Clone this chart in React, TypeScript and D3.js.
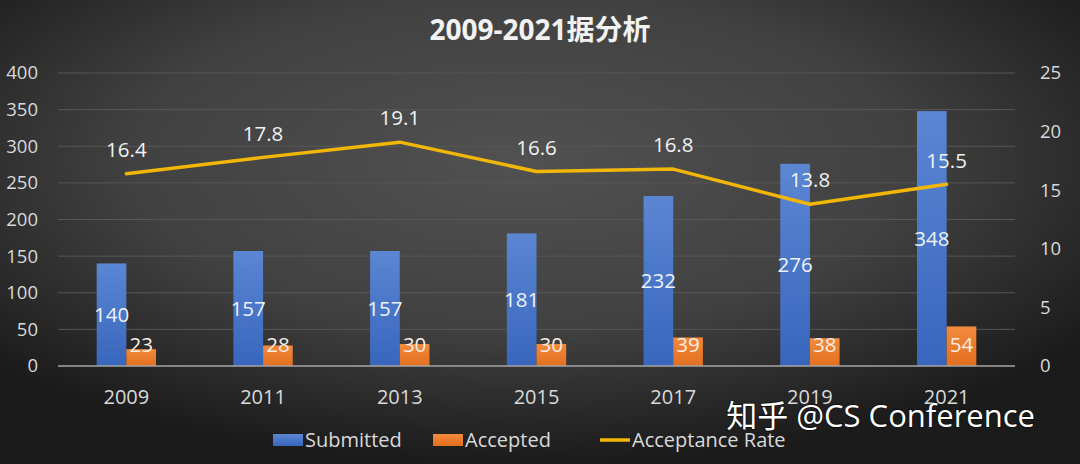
import { useEffect, useRef } from "react";
import * as d3 from "d3";

const years = ["2009", "2011", "2013", "2015", "2017", "2019", "2021"];
const submitted = [140, 157, 157, 181, 232, 276, 348];
const accepted = [23, 28, 30, 30, 39, 38, 54];
const acceptanceRate = [16.4, 17.8, 19.1, 16.6, 16.8, 13.8, 15.5];
const leftTicks = [0, 50, 100, 150, 200, 250, 300, 350, 400];
const rightTicks = [0, 5, 10, 15, 20, 25];
const seriesNames = ["Submitted", "Accepted", "Acceptance Rate"];
const title = "2009-2021据分析";
const watermark = "知乎 @CS Conference";

const FONT = "'Open Sans', 'Noto Sans CJK SC', sans-serif";

export default function App() {
  const svgRef = useRef<SVGSVGElement>(null);

  useEffect(() => {
    const svg = d3.select(svgRef.current);
    svg.selectAll("*").remove();

    const W = 1080;
    const H = 464;
    const margin = { top: 73, right: 65, bottom: 98, left: 58 };
    const width = W - margin.left - margin.right;
    const height = H - margin.top - margin.bottom;

    // Background
    const defs = svg.append("defs");
    const bg = defs
      .append("radialGradient")
      .attr("id", "bg")
      .attr("cx", "48%")
      .attr("cy", "35%")
      .attr("r", "65%");
    bg.append("stop").attr("offset", "0%").attr("stop-color", "#515151");
    bg.append("stop").attr("offset", "55%").attr("stop-color", "#414141");
    bg.append("stop").attr("offset", "100%").attr("stop-color", "#1b1b1b");

    const blue = defs
      .append("linearGradient")
      .attr("id", "blueGrad")
      .attr("x1", 0)
      .attr("y1", 0)
      .attr("x2", 0)
      .attr("y2", 1);
    blue.append("stop").attr("offset", "0%").attr("stop-color", "#5b86d3");
    blue.append("stop").attr("offset", "100%").attr("stop-color", "#3866bd");

    const orange = defs
      .append("linearGradient")
      .attr("id", "orangeGrad")
      .attr("x1", 0)
      .attr("y1", 0)
      .attr("x2", 0)
      .attr("y2", 1);
    orange.append("stop").attr("offset", "0%").attr("stop-color", "#f28a3c");
    orange.append("stop").attr("offset", "100%").attr("stop-color", "#e36f1f");

    svg.append("rect").attr("width", W).attr("height", H).attr("fill", "url(#bg)");

    const g = svg
      .append("g")
      .attr("transform", `translate(${margin.left},${margin.top})`);

    // Scales
    const x0 = d3.scaleBand().domain(years).range([0, width]).paddingInner(0).paddingOuter(0);
    const x1 = d3
      .scaleBand()
      .domain(["s", "a"])
      .range([x0.bandwidth() * 0.283, x0.bandwidth() * 0.717]);
    const yLeft = d3.scaleLinear().domain([0, 400]).range([height, 0]);
    const yRight = d3.scaleLinear().domain([0, 25]).range([height, 0]);

    // Gridlines
    g.append("g")
      .selectAll("line")
      .data(leftTicks.filter((t) => t > 0))
      .join("line")
      .attr("x1", 0)
      .attr("x2", width)
      .attr("y1", (d) => yLeft(d))
      .attr("y2", (d) => yLeft(d))
      .attr("stroke", "#575757")
      .attr("stroke-width", 1);

    // Left axis labels
    g.append("g")
      .selectAll("text")
      .data(leftTicks)
      .join("text")
      .attr("x", -20)
      .attr("y", (d) => yLeft(d))
      .attr("dy", "0.35em")
      .attr("text-anchor", "end")
      .attr("fill", "#d9d9d9")
      .style("font-family", FONT)
      .style("font-size", "18.5px")
      .text((d) => d);

    // Right axis labels
    g.append("g")
      .selectAll("text")
      .data(rightTicks)
      .join("text")
      .attr("x", width + 25)
      .attr("y", (d) => yRight(d))
      .attr("dy", "0.35em")
      .attr("text-anchor", "start")
      .attr("fill", "#d9d9d9")
      .style("font-family", FONT)
      .style("font-size", "18.5px")
      .text((d) => d);

    // Bars
    const groups = g
      .append("g")
      .selectAll("g")
      .data(years)
      .join("g")
      .attr("transform", (d) => `translate(${x0(d)},0)`);

    groups
      .append("rect")
      .attr("x", x1("s")!)
      .attr("width", x1.bandwidth())
      .attr("y", (_, i) => yLeft(submitted[i]))
      .attr("height", (_, i) => height - yLeft(submitted[i]))
      .attr("fill", "url(#blueGrad)");

    groups
      .append("rect")
      .attr("x", x1("a")!)
      .attr("width", x1.bandwidth())
      .attr("y", (_, i) => yLeft(accepted[i]))
      .attr("height", (_, i) => height - yLeft(accepted[i]))
      .attr("fill", "url(#orangeGrad)");

    // Baseline
    g.append("line")
      .attr("x1", 0)
      .attr("x2", width)
      .attr("y1", height)
      .attr("y2", height)
      .attr("stroke", "#a6a6a6")
      .attr("stroke-width", 1.5);

    // Bar labels
    groups
      .append("text")
      .attr("x", x1("s")! + x1.bandwidth() / 2)
      .attr("y", (_, i) => (yLeft(submitted[i]) + height) / 2)
      .attr("dy", "0.35em")
      .attr("text-anchor", "middle")
      .attr("fill", "#eef3fb")
      .style("font-family", FONT)
      .style("font-size", "20.5px")
      .text((_, i) => submitted[i]);

    groups
      .append("text")
      .attr("x", x1("a")! + x1.bandwidth() / 2)
      .attr("y", height - 21)
      .attr("dy", "0.35em")
      .attr("text-anchor", "middle")
      .attr("fill", "#fbeee4")
      .style("font-family", FONT)
      .style("font-size", "20.5px")
      .text((_, i) => accepted[i]);

    // Acceptance rate line
    const line = d3
      .line<number>()
      .x((_, i) => x0(years[i])! + x0.bandwidth() / 2)
      .y((d) => yRight(d));

    g.append("path")
      .datum(acceptanceRate)
      .attr("fill", "none")
      .attr("stroke", "#f2b705")
      .attr("stroke-width", 3.5)
      .attr("stroke-linejoin", "round")
      .attr("stroke-linecap", "round")
      .attr("d", line);

    g.append("g")
      .selectAll("text")
      .data(acceptanceRate)
      .join("text")
      .attr("x", (_, i) => x0(years[i])! + x0.bandwidth() / 2)
      .attr("y", (d) => yRight(d) - 24)
      .attr("dy", "0.35em")
      .attr("text-anchor", "middle")
      .attr("fill", "#f2f2f2")
      .style("font-family", FONT)
      .style("font-size", "20.5px")
      .text((d) => d.toFixed(1));

    // X axis labels
    g.append("g")
      .selectAll("text")
      .data(years)
      .join("text")
      .attr("x", (d) => x0(d)! + x0.bandwidth() / 2)
      .attr("y", height + 31)
      .attr("dy", "0.35em")
      .attr("text-anchor", "middle")
      .attr("fill", "#d9d9d9")
      .style("font-family", FONT)
      .style("font-size", "20px")
      .text((d) => d);

    // Title
    svg
      .append("text")
      .attr("x", W / 2)
      .attr("y", 30)
      .attr("dy", "0.35em")
      .attr("text-anchor", "middle")
      .attr("fill", "#f2f2f2")
      .style("font-family", FONT)
      .style("font-size", "28px")
      .style("font-weight", "bold")
      .text(title);

    // Legend
    const legendY = 440;
    const legend = svg.append("g").style("font-family", FONT).style("font-size", "20px");
    const items = [
      { x: 273, kind: "rect", fill: "url(#blueGrad)" },
      { x: 433, kind: "rect", fill: "url(#orangeGrad)" },
      { x: 600, kind: "line", fill: "#f2b705" },
    ];
    items.forEach((it, i) => {
      if (it.kind === "rect") {
        legend
          .append("rect")
          .attr("x", it.x)
          .attr("y", legendY - 6)
          .attr("width", 30)
          .attr("height", 12)
          .attr("fill", it.fill);
      } else {
        legend
          .append("line")
          .attr("x1", it.x)
          .attr("x2", it.x + 30)
          .attr("y1", legendY)
          .attr("y2", legendY)
          .attr("stroke", it.fill)
          .attr("stroke-width", 3.5);
      }
      legend
        .append("text")
        .attr("x", it.x + 32)
        .attr("y", legendY)
        .attr("dy", "0.35em")
        .attr("fill", "#d9d9d9")
        .text(seriesNames[i]);
    });

    // Watermark
    svg
      .append("text")
      .attr("x", 1035)
      .attr("y", 416)
      .attr("dy", "0.35em")
      .attr("text-anchor", "end")
      .attr("fill", "#ffffff")
      .style("font-family", FONT)
      .style("font-size", "31px")
      .style("paint-order", "stroke")
      .attr("stroke", "rgba(0,0,0,0.45)")
      .attr("stroke-width", 2)
      .text(watermark);
  }, []);

  return (
    <div style={{ position: "absolute", left: 0, top: 0 }}>
      <svg ref={svgRef} width={1080} height={464} style={{ display: "block" }} />
    </div>
  );
}
